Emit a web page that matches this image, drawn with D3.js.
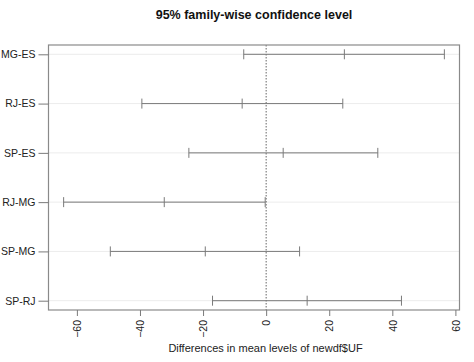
<!DOCTYPE html>
<html><head><meta charset="utf-8">
<script src="https://cdn.jsdelivr.net/npm/d3@7"></script>
<style>body{margin:0;background:#fff;} text{font-family:"Liberation Sans",Arial,sans-serif;}</style>
</head><body><svg id="c" width="474" height="362"></svg>
<script>
const comparisons = ["MG-ES","RJ-ES","SP-ES","RJ-MG","SP-MG","SP-RJ"];
const diffs = [24.8, -7.6, 5.4, -32.3, -19.3, 13.0];
const lowers = [-7.1, -39.4, -24.5, -64.2, -49.4, -17.0];
const uppers = [56.5, 24.3, 35.4, -0.3, 10.6, 42.9];
const xTicks = [-60,-40,-20,0,20,40,60];
const titleText = "95% family-wise confidence level";
const xLabel = "Differences in mean levels of newdf$UF";

const svg = d3.select("#c");
const L=48.5, R=459.5, T=45, B=310;
const x = d3.scaleLinear().domain([-69.0, 61.3]).range([L, R]);
const y = d3.scalePoint().domain(comparisons).range([54.3, 300.7]);
const grey = "#7a7a7a";

// gridlines
svg.append("g").selectAll("line").data(comparisons).join("line")
  .attr("x1", L).attr("x2", R).attr("y1", d=>y(d)).attr("y2", d=>y(d))
  .attr("stroke", "#ececec").attr("stroke-width", 1);

// zero line
svg.append("line").attr("x1", x(0)).attr("x2", x(0)).attr("y1", T).attr("y2", B)
  .attr("stroke", "#666").attr("stroke-dasharray", "1.5,1.5").attr("stroke-width", 1);

// intervals
const g = svg.append("g");
comparisons.forEach((c,i)=>{
  const yy = y(c);
  g.append("line").attr("x1", x(lowers[i])).attr("x2", x(uppers[i])).attr("y1", yy).attr("y2", yy)
    .attr("stroke", grey).attr("stroke-width", 1);
  [lowers[i], diffs[i], uppers[i]].forEach(v=>{
    g.append("line").attr("x1", x(v)).attr("x2", x(v)).attr("y1", yy-5).attr("y2", yy+5)
      .attr("stroke", grey).attr("stroke-width", 1);
  });
});

// box
svg.append("rect").attr("x", L).attr("y", T).attr("width", R-L).attr("height", B-T)
  .attr("fill", "none").attr("stroke", "#8a8a8a").attr("stroke-width", 1.2);

// x axis
const xa = svg.append("g").attr("transform", `translate(0,${B})`)
  .call(d3.axisBottom(x).tickValues(xTicks).tickSize(6).tickPadding(4).tickFormat(d3.format("d")));
xa.select(".domain").remove();
xa.selectAll("line").attr("stroke", grey);
xa.selectAll("text").attr("transform", "rotate(-90)").attr("text-anchor", "end")
  .attr("x", -10).attr("y", 0).attr("dy", "0.35em")
  .attr("font-size", 10.5).attr("fill", "#222").style("font-family", "'Liberation Sans',Arial,sans-serif");

// y axis
const ya = svg.append("g").attr("transform", `translate(${L},0)`)
  .call(d3.axisLeft(y).tickSize(10).tickPadding(3));
ya.select(".domain").remove();
ya.selectAll("line").attr("stroke", grey);
ya.selectAll("text").attr("font-size", 10.5).attr("fill", "#222").style("font-family", "'Liberation Sans',Arial,sans-serif");

svg.append("text").attr("x", (L+R)/2).attr("y", 19).attr("text-anchor", "middle")
  .attr("font-size", 12.5).attr("font-weight", "bold").attr("fill", "#111").text(titleText);
svg.append("text").attr("x", 265.5).attr("y", 352).attr("text-anchor", "middle")
  .attr("font-size", 11).attr("fill", "#222").text(xLabel);
</script></body></html>
